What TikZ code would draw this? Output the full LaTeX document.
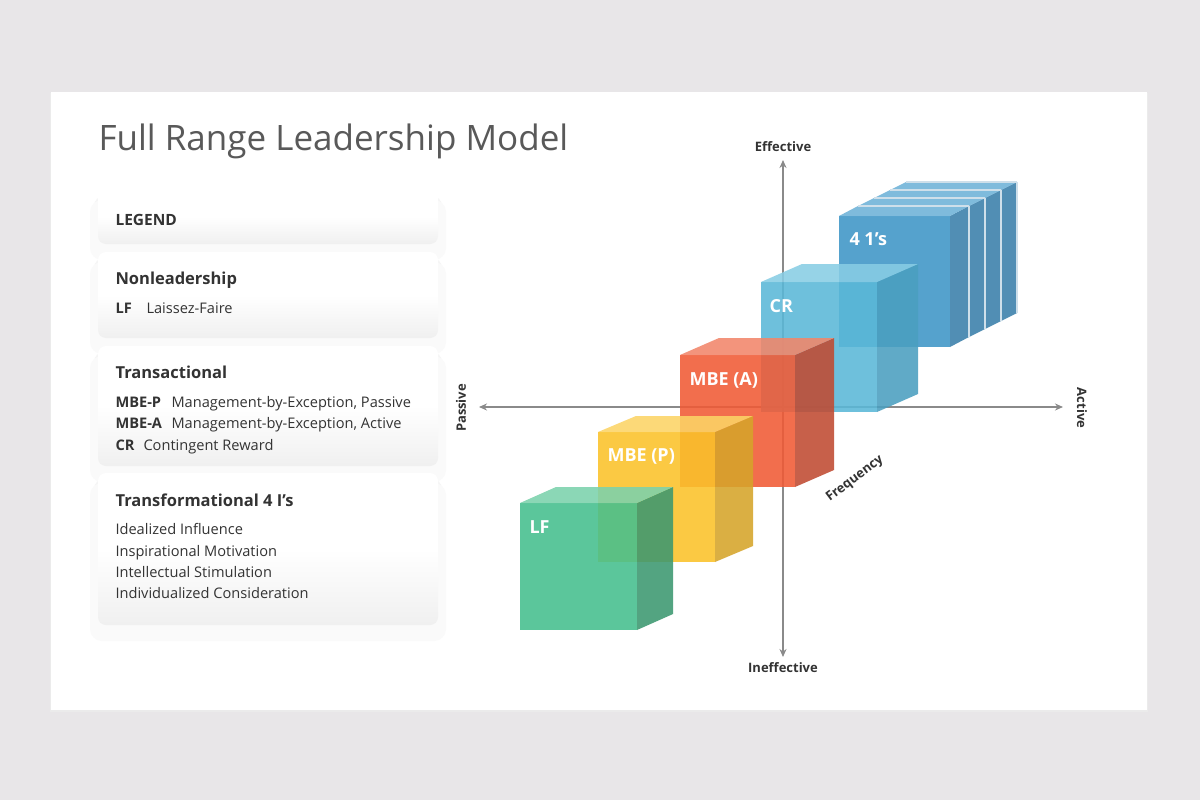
\documentclass[tikz,border=0pt]{standalone}
\usepackage{fontspec}
\setmainfont{Open Sans}
\usetikzlibrary{arrows.meta,shadings}
\definecolor{bg}{HTML}{E8E6E8}
\definecolor{ax}{HTML}{8A8A8A}
\definecolor{txt}{HTML}{333333}
\definecolor{gF}{HTML}{45BF8E}\definecolor{gR}{HTML}{3C9870}\definecolor{gT}{HTML}{7CD2AC}
\definecolor{yF}{HTML}{FBC22A}\definecolor{yR}{HTML}{D6A42A}\definecolor{yT}{HTML}{FCD466}
\definecolor{rF}{HTML}{F15A35}\definecolor{rR}{HTML}{C04A32}\definecolor{rT}{HTML}{F2866A}
\definecolor{cF}{HTML}{5AB8D8}\definecolor{cR}{HTML}{4A9FC0}\definecolor{cT}{HTML}{88CDE4}
\definecolor{iF}{HTML}{3E96C7}\definecolor{iR}{HTML}{3A7FAA}\definecolor{iT}{HTML}{6EB2D8}
\newcommand\mycube[9]{% x y w h dx dy front right top
  \fill[#7,opacity=.88] (#1,#2) rectangle ++(#3,#4);
  \fill[#8,opacity=.88] ({#1+#3},#2) -- ++(#5,-#6) -- ++(0,#4) -- ++(-#5,#6) -- cycle;
  \fill[#9,opacity=.88] (#1,#2) -- ++(#5,-#6) -- ++(#3,0) -- ++(-#5,#6) -- cycle;
}
\tikzset{
  lbl/.style={text=white,font=\bfseries\fontsize{18}{20}\selectfont,anchor=north west},
  axl/.style={text=txt,font=\bfseries\fontsize{13}{15}\selectfont},
  head/.style={text=txt,font=\bfseries\fontsize{16.5}{19}\selectfont,anchor=base west},
  item/.style={text=txt,font=\fontsize{14.6}{17}\selectfont,anchor=base west},
  axis/.style={draw=ax,line width=1.6pt,{Stealth[length=8pt,width=7pt]}-{Stealth[length=8pt,width=7pt]}}
}
\newcommand\mypanel[3]{%
  \fill[black!4,rounded corners=10pt] ({#1-4},{#2+6}) rectangle (442,{#3+10});
  \fill[black!2,rounded corners=12pt] ({#1-8},{#2+10}) rectangle (446,{#3+16});
  \shade[top color=white,bottom color=black!6,middle color=white,rounded corners=8pt] (#1,#2) rectangle (438,#3);
}
\begin{document}
\begin{tikzpicture}[x=1pt,y=-1pt]
\fill[bg] (0,0) rectangle (1200,800);
\useasboundingbox (0,0) rectangle (1200,800);
\fill[black!8] (50,93) rectangle (1148,712);
\fill[white] (51,92) rectangle (1147,710);
\node[anchor=west,text=black!65,font=\fontsize{35}{40}\selectfont] (title) at (95,141) {Full Range Leadership Model};
% legend panels
\mypanel{98}{190}{244}
\mypanel{98}{252}{338}
\mypanel{98}{346}{466}
\mypanel{98}{473}{625}
\node[head,font=\bfseries\fontsize{15.5}{18}\selectfont] (leg) at (112,225) {LEGEND};
\node[head] (nl) at (112,284) {Nonleadership};
\node[item] (lf1) at (112,313) {\textbf{LF}};
\node[item] (lf2) at (143,313) {Laissez-Faire};
\node[head] (tr) at (112,378) {Transactional};
\node[item] (p1) at (112,407) {\textbf{MBE-P}};
\node[item] (p2) at (168,407) {Management-by-Exception, Passive};
\node[item] (a1) at (112,428) {\textbf{MBE-A}};
\node[item] (a2) at (168,428) {Management-by-Exception, Active};
\node[item] (c1) at (112,450) {\textbf{CR}};
\node[item] (c2) at (140,450) {Contingent Reward};
\node[head] (tf) at (112,506) {Transformational 4 I's};
\node[item] (t1) at (112,534) {Idealized Influence};
\node[item] (t2) at (112,556) {Inspirational Motivation};
\node[item] (t3) at (112,577) {Intellectual Stimulation};
\node[item] (t4) at (112,598) {Individualized Consideration};
% axes
\coordinate (vt) at (783,160); \coordinate (vb) at (783,657);
\coordinate (hl) at (479,407); \coordinate (hr) at (1063,407);
\draw[axis] (vt) -- (vb);
\draw[axis] (hl) -- (hr);
\node[axl] (eff) at (783,147) {Effective};
\node[axl] (ineff) at (783,668) {Ineffective};
\node[axl,rotate=90] (pas) at (461,408) {Passive};
\node[axl,rotate=-90] (act) at (1082,408) {Active};
\node[axl,rotate=37] (freq) at (855,479) {Frequency};
% 4 I's
\mycube{839}{216}{111}{131}{19}{10}{iF}{iR}{iT}
\foreach \k in {1,2,3}{
  \fill[iR,opacity=.88] ({969+\k*16-16},{206-\k*8+8}) -- ++(16,-8) -- ++(0,131) -- ++(-16,8) -- cycle;
  \fill[iT,opacity=.88] ({858+\k*16-16},{206-\k*8+8}) -- ++(16,-8) -- ++(111,0) -- ++(-16,8) -- cycle;
}
\foreach \k in {0,1,2,3}{
  \draw[white!75!iR,line width=1.2pt] ({969+\k*16},{206-\k*8}) -- ++(0,131);
  \draw[white!75!iR,line width=1.2pt] ({858+\k*16},{206-\k*8}) -- ++(111,0);
}
\node[lbl] (i4) at (846,229) {4 1's};
\mycube{761}{282}{116}{130}{41}{18}{cF}{cR}{cT}
\node[lbl] (cr) at (766,296) {CR};
\mycube{680}{355}{115}{132}{39}{17}{rF}{rR}{rT}
\node[lbl] (mbea) at (686,369) {MBE (A)};
\mycube{598}{432}{117}{130}{38}{16}{yF}{yR}{yT}
\node[lbl] (mbep) at (604,445) {MBE (P)};
\mycube{520}{503}{117}{127}{36}{16}{gF}{gR}{gT}
\node[lbl] (lf) at (526,517) {LF};
\end{tikzpicture}
\end{document}
